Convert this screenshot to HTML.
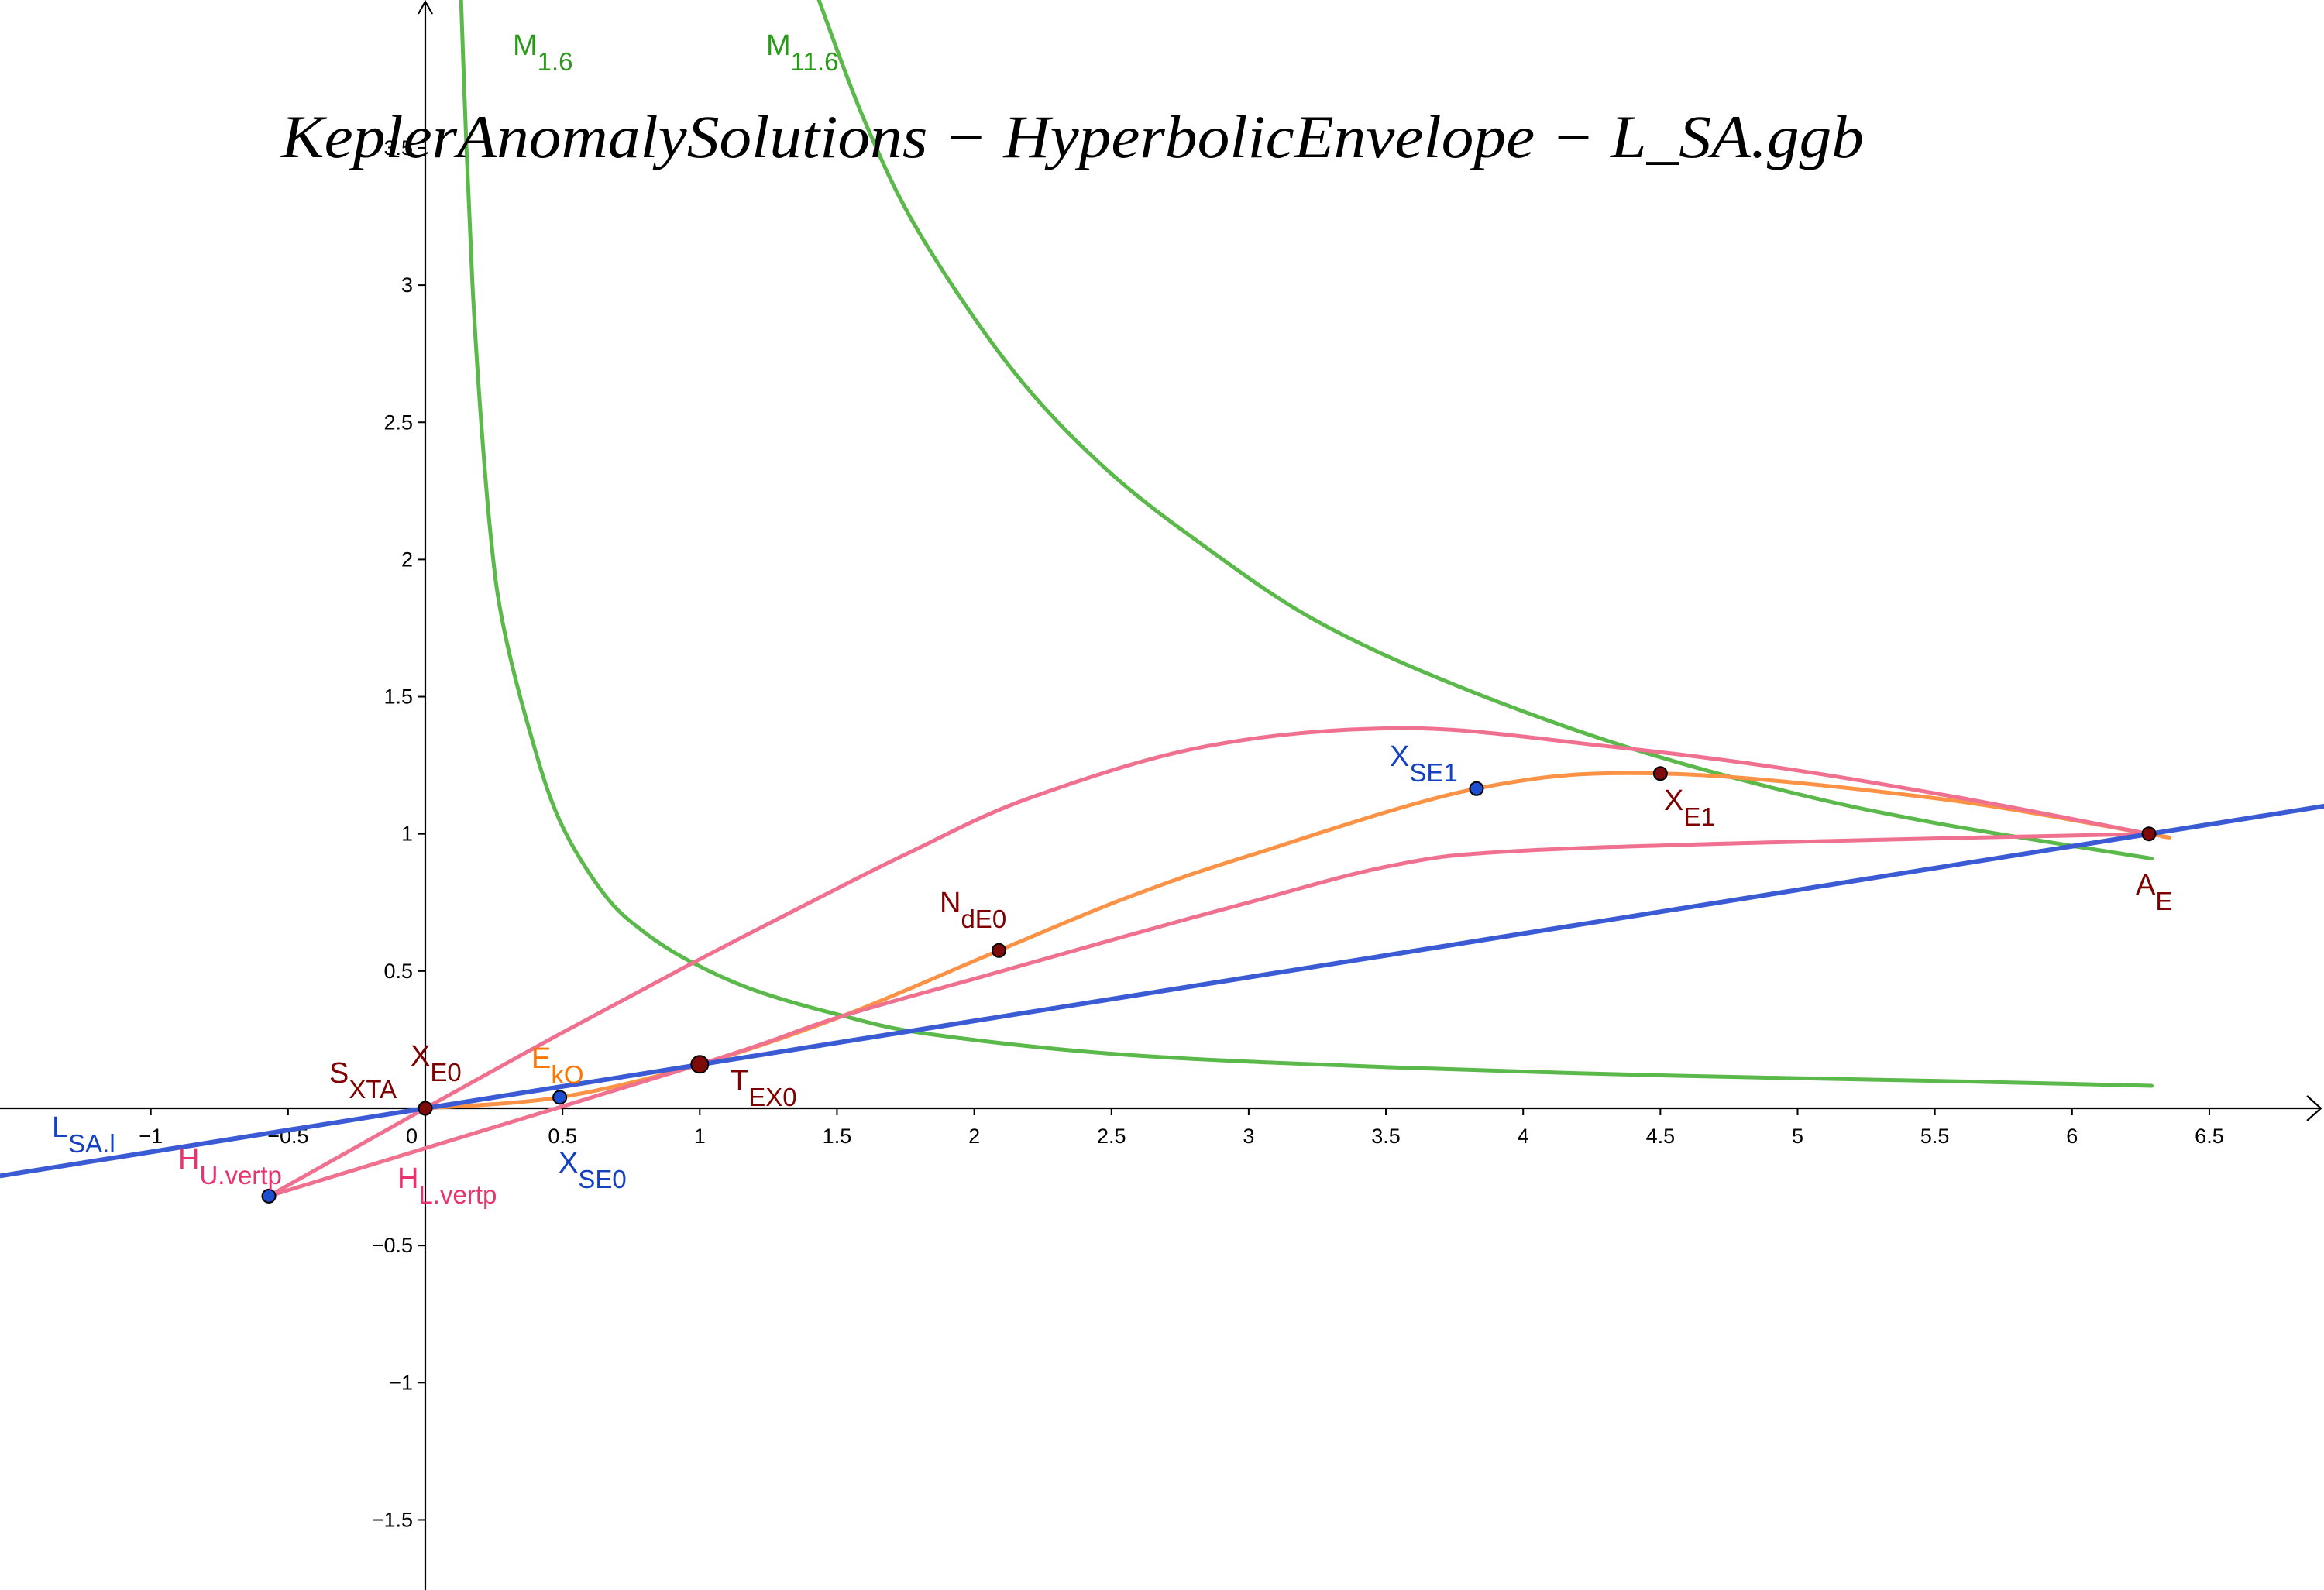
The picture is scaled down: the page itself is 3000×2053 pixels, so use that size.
<!DOCTYPE html>
<html><head><meta charset="utf-8"><style>
html,body{margin:0;padding:0;background:#fff;}
svg{display:block;}
</style></head><body>
<svg id="chart" width="3000" height="2053" viewBox="0 0 3000 2053" xmlns="http://www.w3.org/2000/svg" font-family="Liberation Sans, sans-serif">
<rect width="3000" height="2053" fill="#fff"/>
<g id="axes"></g>
<g id="curves"></g>
<g id="points"></g>
<g id="labels"></g>
<text x="363" y="203" style="font-family:'Liberation Serif',serif;font-style:italic" font-size="78" textLength="2043" lengthAdjust="spacingAndGlyphs" fill="#000">KeplerAnomalySolutions − HyperbolicEnvelope − L_SA.ggb</text>
</svg>
<script>
// ---- data ----
const xTicks = [-1,-0.5,0.5,1,1.5,2,2.5,3,3.5,4,4.5,5,5.5,6,6.5];
const xTickLabels = ["−1","−0.5","0.5","1","1.5","2","2.5","3","3.5","4","4.5","5","5.5","6","6.5"];
const yTicks = [-1.5,-1,-0.5,0.5,1,1.5,2,2.5,3,3.5];
const yTickLabels = ["−1.5","−1","−0.5","0.5","1","1.5","2","2.5","3","3.5"];

const m16X = [0.13,0.15,0.172,0.2,0.237,0.28,0.376,0.489,0.652,0.8,0.975,1.2,1.51,1.84,2.55,3.5,4.5,5.5,6.29];
const m16Y = [4.05,3.5,3.0,2.55,2.1,1.78,1.39,1.05,0.78,0.64,0.53,0.43,0.34,0.27,0.195,0.15,0.12,0.1,0.082];
const m116X = [1.43,1.6,1.8,2.14,2.48,2.85,3.24,3.71,4.32,4.94,5.5,6.29];
const m116Y = [4.05,3.6,3.19,2.69,2.33,2.04,1.78,1.56,1.335,1.16,1.04,0.91];
const pinkUpX = [-0.57,0,0.489,0.975,1.46,1.77,2.2,2.85,3.57,4.3,4.94,5.6,6.28];
const pinkUpY = [-0.32,0,0.27,0.53,0.78,0.935,1.13,1.32,1.385,1.32,1.24,1.13,1.0];
const pinkLowX = [-0.57,1,1.5,2.03,2.55,3.0,3.5,3.93,4.94,6.28];
const pinkLowY = [-0.32,0.16,0.33,0.48,0.627,0.75,0.88,0.935,0.97,1.0];
const orangeX = [0,0.489,1,1.53,2.09,2.55,3.0,3.83,4.5,5.5,6.28,6.33];
const orangeY = [0,0.04,0.16,0.34,0.575,0.765,0.92,1.165,1.22,1.13,1.0,0.99];
const blueLineX = [-1.55,6.92];
const blueLineY = [-0.2467,1.1013];

const ptNames = ["origin","x-se0","t-ex0","n-de0","x-se1","x-e1","a-e","h-u-vertp"];
const ptX = [0,0.49,1,2.09,3.83,4.5,6.28,-0.57];
const ptY = [0,0.04,0.16,0.575,1.165,1.22,1.0,-0.32];
const ptKind = ["red","blue","red","red","blue","red","red","blue"];

// ---- axis functions ----
const X0 = 549, Y0 = 1431, U = 354.3;
const sx = v => X0 + v*U;
const sy = v => Y0 - v*U;
const NS = "http://www.w3.org/2000/svg";
function mk(tag, attrs, parent){ const e=document.createElementNS(NS,tag); for(const k in attrs) e.setAttribute(k,attrs[k]); parent.appendChild(e); return e; }

const axes = document.getElementById('axes');
let e;
e = mk('line',{x1:0,y1:Y0,x2:2995,y2:Y0,stroke:'#000','stroke-width':2.2},axes);


e = mk('polyline',{points:`2978,${Y0-16} 2996,${Y0} 2978,${Y0+16}`,fill:'none',stroke:'#000','stroke-width':2.2},axes);


e = mk('line',{x1:X0,y1:2053,x2:X0,y2:2,stroke:'#000','stroke-width':2.2},axes);


e = mk('polyline',{points:`${X0-9},18 ${X0},2 ${X0+9},18`,fill:'none',stroke:'#000','stroke-width':2.2},axes);


xTicks.forEach((v,i)=>{
  const t = mk('line',{x1:sx(v),y1:Y0,x2:sx(v),y2:Y0+9,stroke:'#000','stroke-width':2},axes);
  
  
  const l = mk('text',{x:sx(v),y:Y0+45,'font-size':27,'text-anchor':'middle',fill:'#000'},axes);
  l.textContent = xTickLabels[i];
  
  
});
e = mk('text',{x:X0-10,y:Y0+45,'font-size':27,'text-anchor':'end',fill:'#000'},axes);
e.textContent='0';


yTicks.forEach((v,i)=>{
  const t = mk('line',{x1:X0-9,y1:sy(v),x2:X0,y2:sy(v),stroke:'#000','stroke-width':2},axes);
  
  
  const l = mk('text',{x:X0-16,y:sy(v)+9,'font-size':27,'text-anchor':'end',fill:'#000'},axes);
  l.textContent = yTickLabels[i];
  
  
});

function pathD(xs, ys, straightFirst){
  const P = xs.map((x,i)=>[sx(x),sy(ys[i])]);
  let d = `M${P[0][0]},${P[0][1]}`;
  for(let i=0;i<P.length-1;i++){
    if(straightFirst && i===0){ d+=` L${P[1][0]},${P[1][1]}`; continue; }
    const p0=P[Math.max(0,i-1)], p1=P[i], p2=P[i+1], p3=P[Math.min(P.length-1,i+2)];
    const c1=[p1[0]+(p2[0]-p0[0])/6, p1[1]+(p2[1]-p0[1])/6];
    const c2=[p2[0]-(p3[0]-p1[0])/6, p2[1]-(p3[1]-p1[1])/6];
    d+=` C${c1[0]},${c1[1]} ${c2[0]},${c2[1]} ${p2[0]},${p2[1]}`;
  }
  return d;
}
const curves = document.getElementById('curves');
e = mk('path',{d:pathD(m16X,m16Y,false),fill:'none',stroke:'#5bb84a','stroke-width':5,'stroke-linecap':'round'},curves);


e = mk('path',{d:pathD(m116X,m116Y,false),fill:'none',stroke:'#5bb84a','stroke-width':5,'stroke-linecap':'round'},curves);


e = mk('path',{d:pathD(orangeX,orangeY,false),fill:'none',stroke:'#fb9245','stroke-width':5,'stroke-linecap':'round'},curves);


e = mk('path',{d:pathD(pinkUpX,pinkUpY,true),fill:'none',stroke:'#f07090','stroke-width':5,'stroke-linecap':'round'},curves);


e = mk('path',{d:pathD(pinkLowX,pinkLowY,true),fill:'none',stroke:'#f07090','stroke-width':5,'stroke-linecap':'round'},curves);


e = mk('line',{x1:sx(blueLineX[0]),y1:sy(blueLineY[0]),x2:sx(blueLineX[1]),y2:sy(blueLineY[1]),stroke:'#3a5bd4','stroke-width':6},curves);



const points = document.getElementById('points');
ptX.forEach((x,i)=>{
  const c = mk('circle',{cx:sx(x),cy:sy(ptY[i]),r:(i===2?11:8.5),fill:ptKind[i]==='red'?'#7f0a0a':'#1d4fd0',stroke:'#000','stroke-width':2},points);
  
  
});

const labels = document.getElementById('labels');
const labs = [
 ["M","1.6",662,71,"#2a9a1a","label-m-1-6"],
 ["M","11.6",989,71,"#2a9a1a","label-m-11-6"],
 ["L","SA.l",67,1468,"#1540c0","label-l-sa"],
 ["H","U.vertp",230,1509,"#e8336e","label-h-u-vertp"],
 ["S","XTA",425,1398,"#7f0000","label-s-xta"],
 ["X","E0",530,1376,"#7f0000","label-x-e0"],
 ["E","kO",686,1379,"#ff7700","label-e-ko"],
 ["X","SE0",721,1514,"#1540c0","label-x-se0"],
 ["H","L.vertp",513,1534,"#e8336e","label-h-l-vertp"],
 ["T","EX0",943,1408,"#7f0000","label-t-ex0"],
 ["N","dE0",1213,1178,"#7f0000","label-n-de0"],
 ["X","SE1",1794,989,"#1540c0","label-x-se1"],
 ["X","E1",2148,1046,"#7f0000","label-x-e1"],
 ["A","E",2757,1155,"#7f0000","label-a-e"]
];
labs.forEach(l=>{
  const t = mk('text',{x:l[2],y:l[3],'font-size':38,fill:l[4]},labels);
  const s = mk('tspan',{dy:0},t); s.textContent=l[0];
  const s2 = mk('tspan',{dy:20,'font-size':33},t); s2.textContent=l[1];
  
  
});
</script>
</body></html>
